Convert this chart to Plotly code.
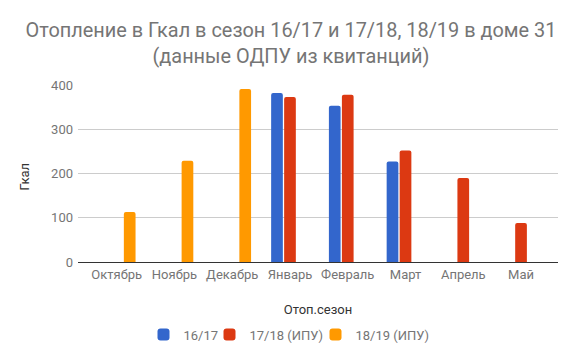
import plotly.graph_objects as go

months = ["Октябрь", "Ноябрь", "Декабрь", "Январь", "Февраль", "Март", "Апрель", "Май"]
s1617 = [None, None, None, 382, 353, 227, None, None]
s1718 = [None, None, None, 373, 378, 252, 190, 88]
s1819 = [113, 229, 391, None, None, None, None, None]
series_names = ["16/17", "17/18 (ИПУ)", "18/19 (ИПУ)"]
colors = ["#3366cc", "#dc3912", "#ff9900"]
legend_widths = [21, 61, 72]

fig = go.Figure()
for name, vals, col, lw in zip(series_names, [s1617, s1718, s1819], colors, legend_widths):
    fig.add_trace(go.Bar(x=months, y=vals, name=name, legendwidth=lw,
                         marker=dict(color=col, cornerradius=2, line=dict(width=0))))

W, H = 570, 354  # page body has an 8px margin
font = "Roboto, Arial, sans-serif"
fig.update_layout(
    width=W, height=H,
    margin=dict(l=70, r=20, t=77, b=100, autoexpand=False),
    paper_bgcolor="white", plot_bgcolor="white",
    font=dict(family=font, size=13, color="#757575"),
    title=dict(text="Отопление в Гкал в сезон 16/17 и 17/18, 18/19 в доме 31<br>(данные ОДПУ из квитанций)",
               x=0.5 - 2 / W, xanchor="center", xref="container",
               y=1 - 29 / H, yanchor="top", yref="container", automargin=False,
               font=dict(family=font, size=19.9, color="#757575")),
    barmode="group", bargap=0.325, bargroupgap=0.1,
    showlegend=True,
    legend=dict(orientation="h", x=0.5 - 5 / W, xanchor="center", xref="container",
                y=-0.41, yanchor="middle",
                font=dict(family=font, size=13, color="#757575"),
                itemwidth=30, traceorder="normal"),
    xaxis=dict(range=[-0.67, 7.64], showline=True, linecolor="#333333", linewidth=1,
               showgrid=False, ticks="", automargin=False,
               tickfont=dict(size=13, color="#757575"),
               title=dict(text="Отоп.сезон", font=dict(size=13, color="#333333"), standoff=24)),
    yaxis=dict(range=[0, 400], tickvals=[0, 100, 200, 300, 400], showgrid=True,
               gridcolor="#cccccc", gridwidth=1, zeroline=False, showline=False,
               ticks="", automargin=False,
               tickfont=dict(size=13, color="#757575"), ticklabelstandoff=4),
    annotations=[dict(text="Гкал", textangle=-90, xref="paper", yref="paper",
                      x=0, y=0.5, xanchor="center", yanchor="middle",
                      xshift=-54, yshift=-3, showarrow=False,
                      font=dict(family=font, size=13, color="#333333"))],
)

fig.write_html("out.html")
